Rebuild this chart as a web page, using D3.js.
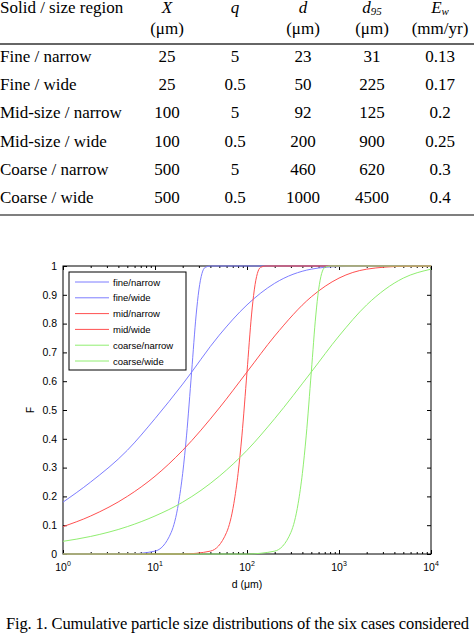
<!DOCTYPE html><html><head><meta charset="utf-8"><script src="https://cdn.jsdelivr.net/npm/d3@7"></script>
<style>body{margin:0;background:#fff}svg{display:block}</style></head><body><svg width="474" height="634"></svg><script>
const tableHead1=["Solid / size region","X","q","d","d95","Ew"];
const tableHead2=["","(μm)","","(μm)","(μm)","(mm/yr)"];
const rows=[["Fine / narrow","25","5","23","31","0.13"],["Fine / wide","25","0.5","50","225","0.17"],["Mid-size / narrow","100","5","92","125","0.2"],["Mid-size / wide","100","0.5","200","900","0.25"],["Coarse / narrow","500","5","460","620","0.3"],["Coarse / wide","500","0.5","1000","4500","0.4"]];
const seriesNames=["fine/narrow","fine/wide","mid/narrow","mid/wide","coarse/narrow","coarse/wide"];
const seriesColors=["#7d7dff","#7d7dff","#ff5050","#ff5050","#90ee70","#90ee70"];
const fineNarrow=[[1,0],[5,0],[10,0.01],[15,0.075],[18,0.176],[20,0.28],[22,0.41],[25,0.632],[28,0.83],[30,0.917],[35,0.995],[40,1],[10000,1]];
const fineWide=[[1,0.18],[2,0.25],[5,0.36],[10,0.47],[20,0.59],[50,0.76],[100,0.865],[200,0.94],[500,0.989],[1000,0.998],[10000,1]];
const midNarrow=[[1,0],[20,0],[40,0.01],[60,0.075],[72,0.176],[80,0.28],[88,0.41],[100,0.632],[112,0.83],[120,0.917],[140,0.995],[160,1],[10000,1]];
const midWide=[[1,0.095],[2,0.132],[5,0.2],[10,0.27],[20,0.36],[50,0.507],[100,0.632],[200,0.757],[500,0.893],[1000,0.958],[2000,0.989],[5000,0.999],[10000,1]];
const coarseNarrow=[[1,0],[100,0],[200,0.01],[300,0.075],[360,0.176],[400,0.28],[440,0.41],[500,0.632],[560,0.83],[600,0.917],[700,0.995],[800,1],[10000,1]];
const coarseWide=[[1,0.044],[2,0.061],[5,0.095],[10,0.132],[20,0.18],[50,0.27],[100,0.36],[200,0.47],[500,0.632],[1000,0.757],[2000,0.865],[5000,0.958],[10000,0.989]];
const allSeries=[fineNarrow,fineWide,midNarrow,midWide,coarseNarrow,coarseWide];
const yTicks=[0,0.1,0.2,0.3,0.4,0.5,0.6,0.7,0.8,0.9,1];
const xTicks=[1,10,100,1000,10000];

const svg=d3.select("svg");
const colX=[0,167,235,303,372,440];
const serif="'Liberation Serif','Times New Roman',serif";
const t=svg.append("g").attr("font-family",serif).attr("font-size",17).attr("fill","#000");
function cell(txt,i,y,italic){const e=t.append("text").attr("x",colX[i]).attr("y",y).attr("text-anchor",i?"middle":"start");if(italic)e.attr("font-style","italic");return e;}
cell(tableHead1[0],0,13).text(tableHead1[0]);
cell("",1,13,1).text("X");cell("",2,13,1).text("q");cell("",3,13,1).text("d");
const d95=cell("",4,13,1);d95.append("tspan").text("d");d95.append("tspan").attr("font-size",11).attr("dy",2).text("95");
const ew=cell("",5,13,1);ew.append("tspan").text("E");ew.append("tspan").attr("font-size",11).attr("dy",2).text("w");
tableHead2.forEach((h,i)=>{if(h)cell(h,i,34).text(h);});
svg.append("line").attr("x1",0).attr("x2",474).attr("y1",44).attr("y2",44).attr("stroke","#333").attr("stroke-width",1.5);
rows.forEach((r,j)=>r.forEach((v,i)=>cell(v,i,62+j*28.2).text(v)));
svg.append("line").attr("x1",0).attr("x2",474).attr("y1",215).attr("y2",215).attr("stroke","#555").attr("stroke-width",1.5);

const L=63,R=431,T=266,B=554;
const x=d3.scaleLog().domain([1,10000]).range([L,R]);
const y=d3.scaleLinear().domain([0,1]).range([B,T]);
const g=svg.append("g").attr("font-family","'Liberation Sans',Arial,sans-serif");
g.append("rect").attr("x",L).attr("y",T).attr("width",R-L).attr("height",B-T).attr("fill","none").attr("stroke","#000");
const minor=[];for(let e=0;e<4;e++)for(let k=2;k<=9;k++)minor.push(k*Math.pow(10,e));
g.append("g").attr("transform",`translate(0,${B})`).call(d3.axisBottom(x).tickValues(xTicks).tickSize(-4).tickFormat(()=>"")).call(a=>a.select(".domain").remove());
g.append("g").attr("transform",`translate(0,${B})`).call(d3.axisBottom(x).tickValues(minor).tickSize(-2).tickFormat(()=>"")).call(a=>a.select(".domain").remove());
g.append("g").attr("transform",`translate(0,${T})`).call(d3.axisTop(x).tickValues(xTicks).tickSize(-4).tickFormat(()=>"")).call(a=>a.select(".domain").remove());
g.append("g").attr("transform",`translate(0,${T})`).call(d3.axisTop(x).tickValues(minor).tickSize(-2).tickFormat(()=>"")).call(a=>a.select(".domain").remove());
g.append("g").attr("transform",`translate(${L},0)`).call(d3.axisLeft(y).tickValues(yTicks).tickSize(-4).tickPadding(6).tickFormat(d=>d===0||d===1?d:d3.format(".1f")(d))).call(a=>{a.select(".domain").remove();a.selectAll("text").attr("font-size",10.5).attr("font-family","'Liberation Sans',Arial,sans-serif");});
g.append("g").attr("transform",`translate(${R},0)`).call(d3.axisRight(y).tickValues(yTicks).tickSize(-4).tickFormat(()=>"")).call(a=>a.select(".domain").remove());
g.selectAll(".tick line").attr("stroke","#000");
xTicks.forEach(v=>{const e=Math.round(Math.log10(v));const tx=g.append("text").attr("x",x(v)).attr("y",571).attr("font-size",10.5).attr("text-anchor","middle");tx.append("tspan").text("10");tx.append("tspan").attr("font-size",7).attr("dy",-5).text(e);});
g.append("text").attr("x",247).attr("y",588).attr("font-size",10.5).attr("text-anchor","middle").text("d (μm)");
g.append("text").attr("transform","translate(34,410) rotate(-90)").attr("font-size",10).attr("text-anchor","middle").text("F");
const line=d3.line().x(d=>x(d[0])).y(d=>y(d[1])).curve(d3.curveMonotoneX);
allSeries.forEach((s,i)=>g.append("path").attr("d",line(s)).attr("fill","none").attr("stroke",seriesColors[i]).attr("stroke-width",1));
const lg=g.append("g");
lg.append("rect").attr("x",69).attr("y",272).attr("width",117).attr("height",98).attr("fill","#fff").attr("stroke","#000");
seriesNames.forEach((n,i)=>{const yy=282+i*15.8;lg.append("line").attr("x1",75).attr("x2",109).attr("y1",yy).attr("y2",yy).attr("stroke",seriesColors[i]);lg.append("text").attr("x",113).attr("y",yy+3.5).attr("font-size",9.5).text(n);});
svg.append("text").attr("x",6).attr("y",629).attr("font-family",serif).attr("font-size",16.5).attr("textLength",463).text("Fig. 1. Cumulative particle size distributions of the six cases considered");
</script></body></html>
